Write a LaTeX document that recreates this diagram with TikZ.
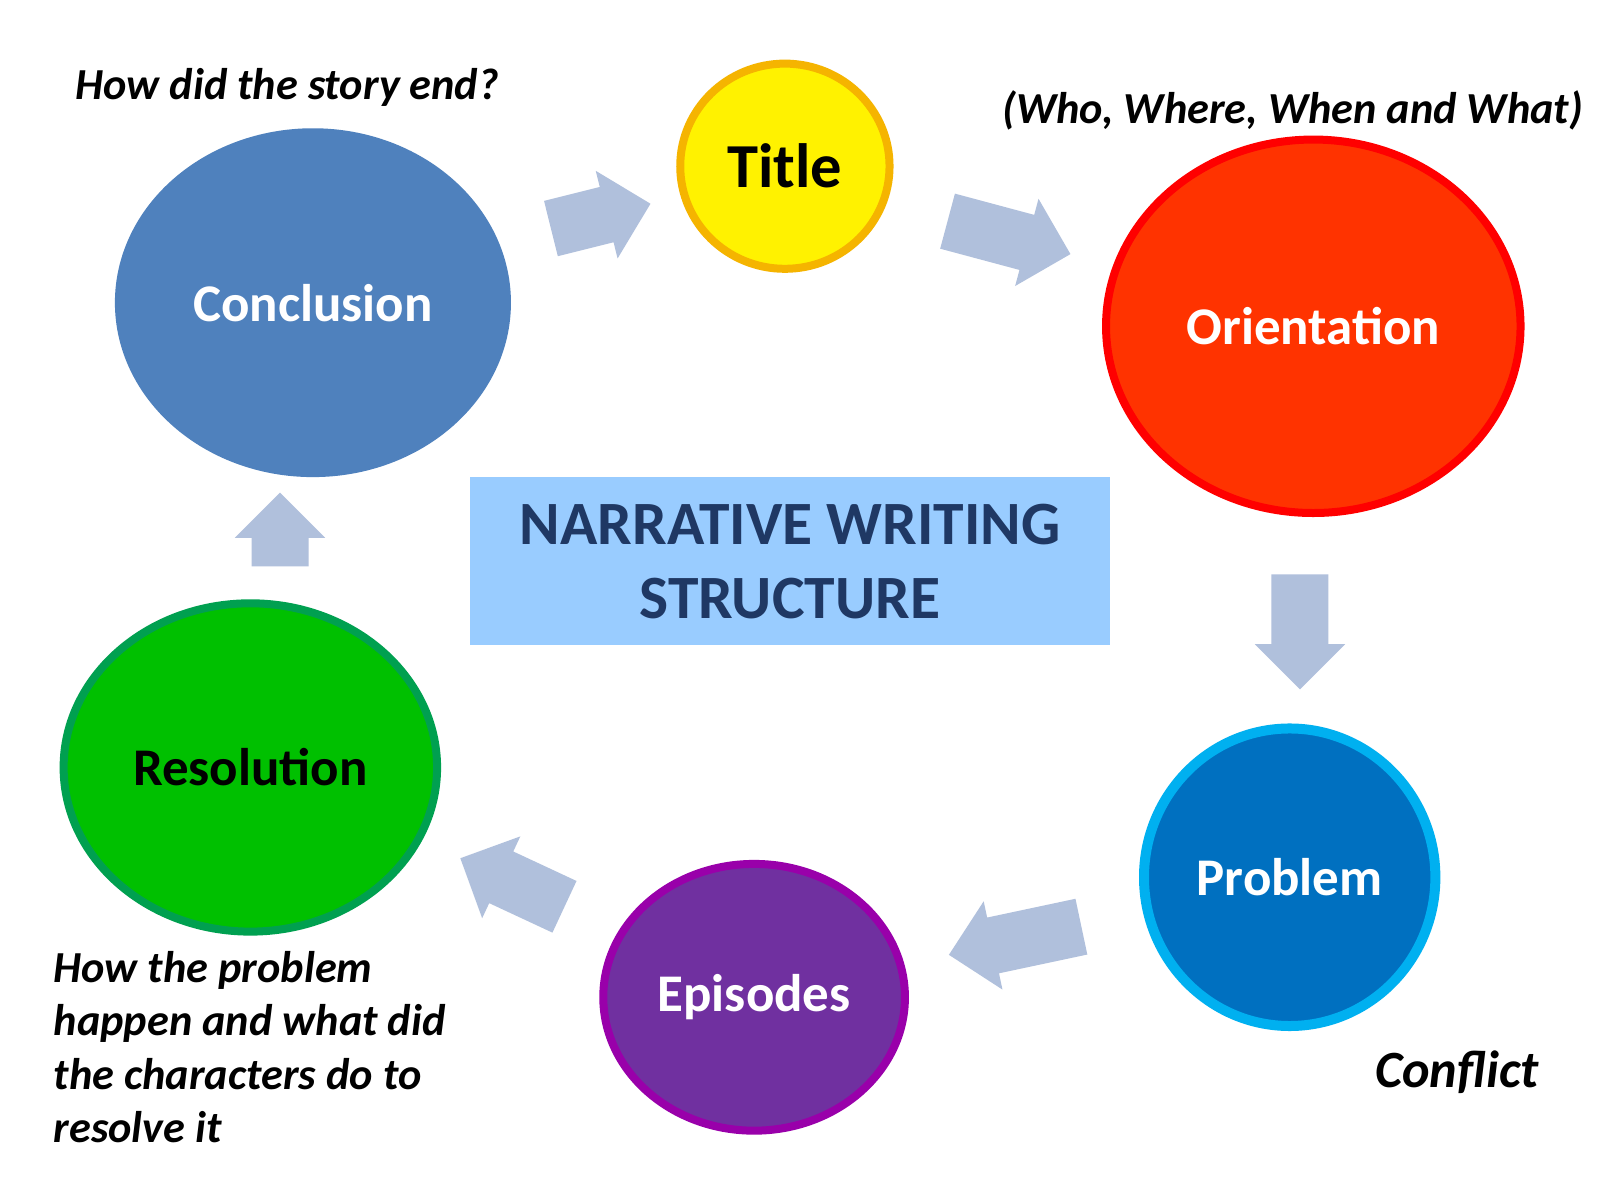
\documentclass[tikz,border=0pt]{standalone}
\usepackage{fontspec}
\setmainfont{Carlito}
\usetikzlibrary{shapes.arrows,shapes.geometric}
\definecolor{arr}{HTML}{B0C0DC}
\tikzset{
 circ/.style={ellipse,font=\fontsize{25.8}{30}\selectfont\bfseries,text=white,inner sep=0},
 blk/.style={single arrow,fill=arr,draw=none,minimum width=44pt,single arrow head extend=8pt,inner sep=0,single arrow head indent=0pt},
 note/.style={font=\fontsize{21.6}{26}\selectfont\bfseries\itshape,inner sep=0}
}
\newcommand{\shaft}{\rule{0pt}{27pt}}
\begin{document}
\begin{tikzpicture}[x=0.5pt,y=-0.5pt]
\useasboundingbox[fill=white] (0,0) rectangle (1600,1200);
\begin{scope}[scale=1.026,transform shape]
\node[circ,fill=yellow,draw={rgb,255:red,245;green,180;blue,0},line width=4pt,minimum width=102pt,minimum height=100pt,text=black,font=\fontsize{30.5}{34}\selectfont\bfseries] (title) at (765,162) {Title};
\node[circ,fill={rgb,255:red,79;green,129;blue,189},minimum width=193pt,minimum height=170pt] (concl) at (305,295) {Conclusion};
\node[circ,fill={rgb,255:red,255;green,51;blue,0},draw=red,line width=4pt,minimum width=202pt,minimum height=182pt] (orient) at (1280,318) {Orientation};
\node[circ,fill={rgb,255:red,0;green,112;blue,192},draw={rgb,255:red,0;green,176;blue,240},line width=5pt,minimum width=142pt,minimum height=145pt] (prob) at (1257,855) {Problem};
\node[circ,fill={rgb,255:red,112;green,48;blue,160},draw={rgb,255:red,153;green,0;blue,170},line width=4pt,minimum width=147pt,minimum height=130pt] (epi) at (735,972) {Episodes};
\node[circ,fill={rgb,255:red,0;green,192;blue,0},draw={rgb,255:red,0;green,160;blue,80},line width=4pt,minimum width=182pt,minimum height=160pt,text=black] (res) at (244,748) {Resolution};
\node[fill={rgb,255:red,153;green,204;blue,255},minimum width=312pt,minimum height=82pt,align=center,text={rgb,255:red,31;green,56;blue,100},font=\fontsize{30}{36}\selectfont\bfseries] (box) at (770,547) {NARRATIVE WRITING\\STRUCTURE};
\node[blk,minimum height=50pt,rotate=14] (a1) at (572,214) {\shaft};
\node[blk,minimum height=62pt,rotate=-15] (a2) at (970,228) {\shaft};
\node[blk,minimum height=56pt,rotate=-90] (a3) at (1267,602) {\shaft};
\node[blk,minimum height=66pt,rotate=192] (a4) at (1003,914) {\shaft};
\node[blk,minimum height=56pt,rotate=155] (a5) at (512,866) {\shaft};
\node[blk,minimum height=36pt,rotate=90] (a6) at (273,530) {\shaft};
\node[note] (n1) at (280,85) {How did the story end?};
\node[note] (n2) at (1260,108) {(Who, Where, When and What)};
\node[note,font=\fontsize{25.5}{30}\selectfont\bfseries\itshape] (n3) at (1420,1045) {Conflict};
\node[note,anchor=north west,align=left] (n4) at (52,927) {How the problem\\happen and what did\\the characters do to\\resolve it};
\end{scope}
\end{tikzpicture}
\end{document}
